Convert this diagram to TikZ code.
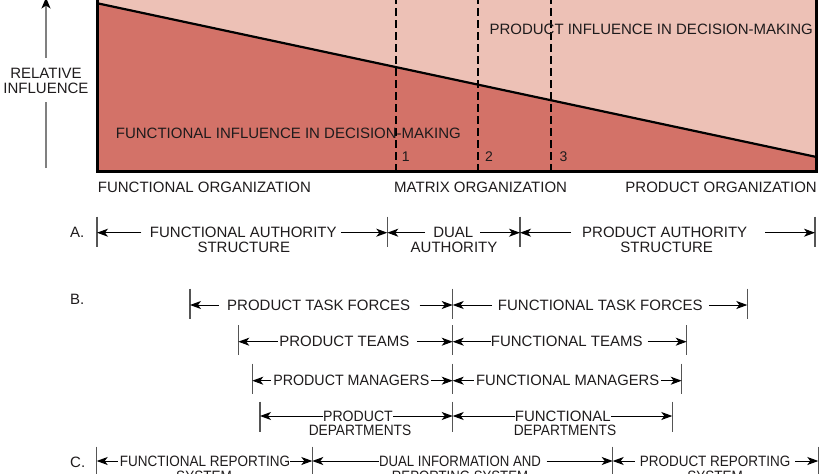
\documentclass[tikz,border=0pt]{standalone}
\usepackage{fontspec}
\setmainfont{Liberation Sans}
\usetikzlibrary{arrows.meta}
\definecolor{darkfill}{RGB}{211,114,104}
\definecolor{lightfill}{RGB}{237,193,182}
\definecolor{ink}{RGB}{30,27,28}
\definecolor{tickgray}{RGB}{85,85,85}
\definecolor{axisgray}{RGB}{128,128,128}
\begin{document}
\begin{tikzpicture}[x=1pt,y=-1pt,
  lab/.style={inner sep=0pt, font=\fontsize{15pt}{14.6pt}\selectfont, text=ink},
  num/.style={inner sep=0pt, font=\fontsize{14pt}{14pt}\selectfont, text=ink},
  arr/.style={draw=black, line width=1pt, -{Stealth[length=11pt,width=8pt,inset=3pt]}},
  tickln/.style={draw=tickgray, line width=1.1pt},
  frame/.style={draw=black, line width=2.4pt, line join=miter},
  divider/.style={draw=black, line width=2.3pt, dash pattern=on 8pt off 4pt},
]
\useasboundingbox (0,0) rectangle (833,474);
\clip (0,0) rectangle (833,474);

% ---------------- chart ----------------
\coordinate (tl) at (97.5,-6);
\coordinate (tr) at (816.5,-6);
\coordinate (bl) at (97.5,171.5);
\coordinate (br) at (816.5,171.5);
\coordinate (ls) at (97.5,3.3);
\coordinate (rs) at (816.5,157);
\fill[lightfill] (tl) -- (tr) -- (rs) -- (ls) -- cycle;
\fill[darkfill] (ls) -- (rs) -- (br) -- (bl) -- cycle;
\draw[divider] (396,-4) -- (396,171.5);
\draw[divider] (478.3,-4) -- (478.3,171.5);
\draw[divider] (551,-4) -- (551,171.5);
\draw[line width=2.2pt] (ls) -- (rs);
\draw[frame] (tl) -- (bl) -- (br) -- (tr);

\node[num, anchor=west] (n1) at (401.7,156.7) {1};
\node[num, anchor=west] (n2) at (485,156.7) {2};
\node[num, anchor=west] (n3) at (559.3,156.7) {3};

\node[lab, anchor=west] (fi) at (115.7,133.8) {FUNCTIONAL INFLUENCE IN DECISION-MAKING};
\node[lab, anchor=west] (pi) at (489.3,29.3) {PRODUCT INFLUENCE IN DECISION-MAKING};

% axis
\node[lab, align=center] (rel) at (46,81) {RELATIVE\\INFLUENCE};
\coordinate (axb) at (46,168);
\coordinate (axt) at (46,-2.5);
\draw[axisgray, line width=1.3pt] (axb) -- ([yshift=-8.6pt]rel.south);
\draw[axisgray, line width=1.3pt, -{Stealth[length=11pt,width=9pt,inset=3pt,color=black]}] ([yshift=10.6pt]rel.north) -- (axt);

\node[lab, anchor=west] (fo) at (97.7,187.8) {FUNCTIONAL ORGANIZATION};
\node[lab, anchor=west] (mo) at (394,187.8) {MATRIX ORGANIZATION};
\node[lab, anchor=east] (po) at (817,187.8) {PRODUCT ORGANIZATION};

% ---------------- row A ----------------
\node[lab, anchor=west] (la) at (70,232.7) {A.};
\coordinate (a1) at (97,232.7);
\coordinate (a2) at (387.3,232.7);
\coordinate (a3) at (520,232.7);
\coordinate (a4) at (815,232.7);
\draw[tickln] (97,216.5) -- (97,246.5);
\draw[tickln] (387.3,216.5) -- (387.3,246.5);
\draw[tickln] (520,216.5) -- (520,246.5);
\draw[tickln] (815,216.5) -- (815,246.5);

\node[lab] (fa) at (243.3,232.7) {FUNCTIONAL AUTHORITY};
\node[lab] (fa2) at (243.8,247.3) {STRUCTURE};
\draw[arr] ([xshift=-8.3pt]fa.west) -- (a1);
\draw[arr] ([xshift=4pt]fa.east) -- (a2);

\node[lab] (da) at (453.3,232.7) {DUAL};
\node[lab] (da2) at (454,247.3) {AUTHORITY};
\draw[arr] ([xshift=-8pt]da.west) -- (a2);
\draw[arr] ([xshift=6.7pt]da.east) -- (a3);

\node[lab] (pa) at (664.7,232.7) {PRODUCT AUTHORITY};
\node[lab] (pa2) at (666.7,247.3) {STRUCTURE};
\draw[arr] ([xshift=-11pt]pa.west) -- (a3);
\draw[arr] ([xshift=18pt]pa.east) -- (a4);

% ---------------- row B ----------------
\node[lab, anchor=west] (lb) at (70,299) {B.};

% B1
\coordinate (b11) at (190,305);
\coordinate (b12) at (452.7,305);
\coordinate (b13) at (747.3,305);
\draw[tickln] (190,288.5) -- (190,318.5);
\draw[tickln] (452.7,288.5) -- (452.7,318.5);
\draw[tickln] (747.3,288.5) -- (747.3,318.5);
\node[lab] (ptf) at (318.7,305) {PRODUCT TASK FORCES};
\node[lab] (ftf) at (600.3,305) {FUNCTIONAL TASK FORCES};
\draw[arr] ([xshift=-8.4pt]ptf.west) -- (b11);
\draw[arr] ([xshift=9.3pt]ptf.east) -- (b12);
\draw[arr] ([xshift=-5.6pt]ftf.west) -- (b12);
\draw[arr] ([xshift=6pt]ftf.east) -- (b13);

% B2
\coordinate (b21) at (238.3,341.7);
\coordinate (b22) at (452.7,341.7);
\coordinate (b23) at (686.7,341.7);
\draw[tickln] (238.3,325) -- (238.3,355);
\draw[tickln] (452.7,325) -- (452.7,355);
\draw[tickln] (686.7,325) -- (686.7,355);
\node[lab] (pt) at (344.3,341.7) {PRODUCT TEAMS};
\node[lab] (ft) at (566.7,341.7) {FUNCTIONAL TEAMS};
\draw[arr] ([xshift=-1pt]pt.west) -- (b21);
\draw[arr] ([xshift=7.4pt]pt.east) -- (b22);
\draw[arr] (ft.west) -- (b22);
\draw[arr] ([xshift=5pt]ft.east) -- (b23);

% B3
\coordinate (b31) at (252.3,380.7);
\coordinate (b32) at (452.7,380.7);
\coordinate (b33) at (681.7,380.7);
\draw[tickln] (252.3,363.5) -- (252.3,393.5);
\draw[tickln] (452.7,363.5) -- (452.7,393.5);
\draw[tickln] (681.7,363.5) -- (681.7,393.5);
\node[lab] (pm) at (351.3,380.7) {\scalebox{0.95}[1]{PRODUCT MANAGERS}};
\node[lab] (fm) at (567.7,380.7) {\scalebox{0.985}[1]{FUNCTIONAL MANAGERS}};
\draw[arr] ([xshift=-2pt]pm.west) -- (b31);
\draw[arr] ([xshift=2pt]pm.east) -- (b32);
\draw[arr] ([xshift=-2pt]fm.west) -- (b32);
\draw[arr] ([xshift=2pt]fm.east) -- (b33);

% B4
\coordinate (b41) at (260,416);
\coordinate (b42) at (452.7,416);
\coordinate (b43) at (672.3,416);
\draw[tickln] (260,401.7) -- (260,431.7);
\draw[tickln] (452.7,401.7) -- (452.7,431.7);
\draw[tickln] (672.3,401.7) -- (672.3,431.7);
\node[lab] (pd) at (358,416) {\scalebox{0.94}[1]{PRODUCT}};
\node[lab] (pd2) at (360,430.7) {\scalebox{0.915}[1]{DEPARTMENTS}};
\node[lab] (fd) at (562.8,416) {FUNCTIONAL};
\node[lab] (fd2) at (565,430.7) {\scalebox{0.915}[1]{DEPARTMENTS}};
\draw[arr] (pd.west) -- (b41);
\draw[arr] (pd.east) -- (b42);
\draw[arr] (fd.west) -- (b42);
\draw[arr] (fd.east) -- (b43);

% ---------------- row C ----------------
\node[lab, anchor=west] (lc) at (70,462) {C.};
\coordinate (c1) at (96.7,461);
\coordinate (c2) at (312.3,461);
\coordinate (c3) at (612.7,461);
\coordinate (c4) at (818.3,461);
\draw[tickln] (96.7,446.7) -- (96.7,480);
\draw[tickln] (312.3,446.7) -- (312.3,480);
\draw[tickln] (612.7,446.7) -- (612.7,480);
\draw[tickln] (818.3,446.7) -- (818.3,480);
\node[lab] (fr) at (205,461) {\scalebox{0.9}[1]{FUNCTIONAL REPORTING}};
\node[lab] (fr2) at (204,476) {\scalebox{0.9}[1]{SYSTEM}};
\node[lab] (dr) at (460,461) {\scalebox{0.88}[1]{DUAL INFORMATION AND}};
\node[lab] (dr2) at (460,476) {\scalebox{0.88}[1]{REPORTING SYSTEM}};
\node[lab] (pr) at (715,461) {\scalebox{0.9}[1]{PRODUCT REPORTING}};
\node[lab] (pr2) at (715,476) {\scalebox{0.9}[1]{SYSTEM}};
\draw[arr] ([xshift=-2pt]fr.west) -- (c1);
\draw[arr] (fr.east) -- (c2);
\draw[arr] (dr.west) -- (c2);
\draw[arr] ([xshift=5.6pt]dr.east) -- (c3);
\draw[arr] ([xshift=-5pt]pr.west) -- (c3);
\draw[arr] ([xshift=5pt]pr.east) -- (c4);
\end{tikzpicture}
\end{document}
